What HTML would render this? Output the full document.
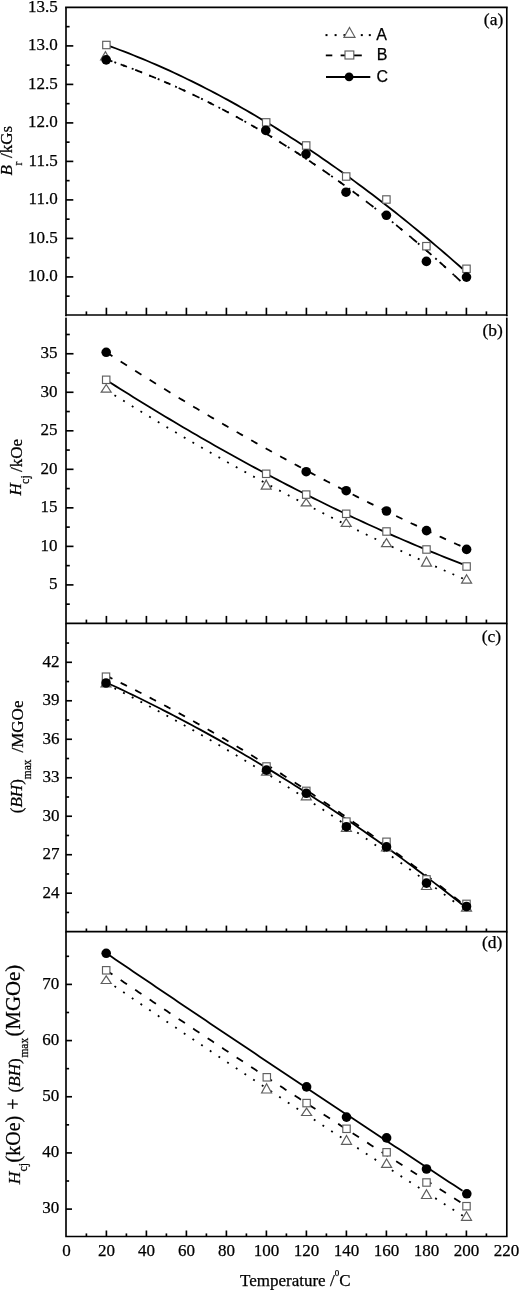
<!DOCTYPE html>
<html><head><meta charset="utf-8"><title>Temperature dependence</title><style>
html,body{margin:0;padding:0;background:#fff;}
svg{display:block;}
.ax{stroke:#000;stroke-width:1.65;fill:none;}
.tl{font-family:"Liberation Serif",serif;font-size:17px;fill:#000;stroke:#000;stroke-width:0.25;}
.pl{font-family:"Liberation Serif",serif;font-size:17.5px;fill:#000;stroke:#000;stroke-width:0.25;}
.lg{font-family:"Liberation Sans",sans-serif;font-size:16px;fill:#000;stroke:#000;stroke-width:0.25;}
.at{font-family:"Liberation Serif",serif;font-size:17px;fill:#000;stroke:#000;stroke-width:0.25;}
.xt{font-family:"Liberation Serif",serif;font-size:17px;fill:#000;stroke:#000;stroke-width:0.25;}
.ls{stroke:#000;stroke-width:1.8;fill:none;}
.lx{stroke:#000;stroke-width:1.8;fill:none;stroke-linecap:butt;}
.ld{stroke:#000;stroke-width:1.8;fill:none;stroke-dasharray:7.7 9.6;}
.lo{stroke:#000;stroke-width:1.8;fill:none;stroke-dasharray:2 8;}
.sq{fill:#fff;stroke:#5e5e5e;stroke-width:1.15;}
.tr{fill:#fff;stroke:#5e5e5e;stroke-width:1.2;stroke-linejoin:miter;}
.ci{fill:#000;}
</style></head>
<body><svg width="520" height="1290" viewBox="0 0 520 1290">
<rect width="520" height="1290" fill="#fff"/>
<g><path d="M106.40 45.00 L110.91 46.62 L115.42 48.28 L119.92 49.97 L124.43 51.69 L128.94 53.45 L133.45 55.24 L137.95 57.06 L142.46 58.91 L146.97 60.79 L151.48 62.71 L155.98 64.66 L160.49 66.64 L165.00 68.65 L169.51 70.69 L174.01 72.77 L178.52 74.88 L183.03 77.02 L187.54 79.19 L192.04 81.39 L196.55 83.62 L201.06 85.89 L205.57 88.19 L210.07 90.51 L214.58 92.87 L219.09 95.26 L223.60 97.68 L228.11 100.14 L232.61 102.62 L237.12 105.13 L241.63 107.68 L246.14 110.25 L250.64 112.86 L255.15 115.50 L259.66 118.16 L264.17 120.86 L268.67 123.59 L273.18 126.35 L277.69 129.14 L282.20 131.96 L286.70 134.81 L291.21 137.69 L295.72 140.60 L300.23 143.53 L304.73 146.50 L309.24 149.50 L313.75 152.53 L318.26 155.59 L322.76 158.68 L327.27 161.80 L331.78 164.94 L336.29 168.12 L340.79 171.33 L345.30 174.56 L349.81 177.83 L354.32 181.12 L358.83 184.45 L363.33 187.80 L367.84 191.18 L372.35 194.59 L376.86 198.03 L381.36 201.50 L385.87 204.99 L390.38 208.52 L394.89 212.07 L399.39 215.66 L403.90 219.27 L408.41 222.91 L412.92 226.58 L417.42 230.27 L421.93 234.00 L426.44 237.75 L430.95 241.53 L435.45 245.34 L439.96 249.18 L444.47 253.04 L448.98 256.93 L453.48 260.85 L457.99 264.80 L462.50 268.78" class="ls"/>
<path d="M108.00 59.95 L109.11 60.33 L110.22 60.71 L111.34 61.10 L112.45 61.49M120.65 64.41 L122.22 64.98 L123.80 65.56 L125.38 66.14 L126.95 66.72M135.15 69.83 L136.73 70.43 L138.30 71.04 L139.88 71.66 L141.45 72.28M149.65 75.57 L151.23 76.21 L152.80 76.86 L154.38 77.51 L155.95 78.16M164.15 81.64 L165.73 82.31 L167.30 83.00 L168.88 83.68 L170.45 84.37M178.65 88.03 L180.23 88.75 L181.80 89.47 L183.38 90.19 L184.95 90.92M193.15 94.76 L194.73 95.51 L196.30 96.27 L197.88 97.03 L199.45 97.79M207.65 101.82 L209.23 102.61 L210.80 103.40 L212.38 104.20 L213.95 105.00M222.15 109.22 L223.73 110.05 L225.30 110.87 L226.88 111.71 L228.45 112.54M236.65 116.96 L238.23 117.82 L239.80 118.69 L241.38 119.55 L242.95 120.43M251.15 125.04 L252.72 125.94 L254.30 126.84 L255.88 127.74 L257.45 128.65M265.65 133.46 L267.23 134.39 L268.80 135.33 L270.38 136.28 L271.95 137.22M280.15 142.22 L281.73 143.20 L283.30 144.17 L284.88 145.16 L286.45 146.14M294.65 151.34 L296.23 152.35 L297.80 153.36 L299.38 154.38 L300.95 155.41M309.15 160.80 L310.73 161.85 L312.30 162.90 L313.88 163.96 L315.45 165.02M323.65 170.62 L325.23 171.71 L326.80 172.80 L328.38 173.89 L329.95 174.99M338.15 180.79 L339.73 181.92 L341.30 183.05 L342.88 184.18 L344.45 185.32M352.65 191.32 L354.23 192.48 L355.80 193.65 L357.38 194.83 L358.95 196.00M367.15 202.20 L368.73 203.41 L370.30 204.62 L371.88 205.83 L373.45 207.05M381.65 213.45 L383.23 214.70 L384.80 215.95 L386.38 217.20 L387.95 218.45M396.15 225.07 L397.73 226.35 L399.30 227.64 L400.88 228.93 L402.45 230.23M410.65 237.05 L412.23 238.37 L413.80 239.70 L415.38 241.03 L416.95 242.37M425.15 249.39 L426.73 250.76 L428.30 252.13 L429.88 253.50 L431.45 254.87M439.65 262.11 L441.23 263.52 L442.80 264.93 L444.38 266.34 L445.95 267.76M454.15 275.21 L455.73 276.65 L457.30 278.10 L458.88 279.55 L460.45 281.01" class="lx"/>
<path d="M114.39 62.17 L116.18 62.80M123.06 65.29 L124.84 65.94M131.73 68.52 L133.51 69.20M140.40 71.87 L142.17 72.56M149.08 75.33 L150.84 76.05M157.75 78.92 L159.50 79.65M166.42 82.62 L168.16 83.37M175.09 86.43 L176.83 87.21M183.77 90.37 L185.49 91.17M192.44 94.42 L194.15 95.24M201.11 98.60 L202.82 99.43M209.78 102.89 L211.48 103.75M218.46 107.31 L220.14 108.18M227.13 111.84 L228.81 112.73M235.80 116.50 L237.47 117.41M244.47 121.28 L246.13 122.20M253.15 126.18 L254.80 127.12M261.82 131.20 L263.46 132.16M270.49 136.35 L272.12 137.33M279.17 141.62 L280.78 142.62M287.84 147.01 L289.45 148.03M296.51 152.53 L298.11 153.56M305.19 158.18 L306.77 159.23M313.86 163.95 L315.44 165.01M322.53 169.85 L324.10 170.93M331.21 175.87 L332.76 176.97M339.88 182.03 L341.42 183.13M348.55 188.31 L350.09 189.43M357.23 194.71 L358.75 195.85M365.90 201.25 L367.41 202.40M374.57 207.92 L376.07 209.08M383.25 214.71 L384.74 215.89M391.92 221.64 L393.40 222.84M400.59 228.70 L402.06 229.91M409.27 235.89 L410.72 237.11M417.94 243.21 L419.39 244.44M426.61 250.66 L428.05 251.91M435.29 258.25 L436.71 259.51M443.96 265.97 L445.37 267.24M452.63 273.82 L454.04 275.10" class="lx"/>
<path d="M105.4 51.6 L110.2 60.0 L100.6 60.0Z" class="tr"/>
<rect x="102.70" y="41.30" width="7.4" height="7.4" class="sq"/>
<rect x="262.50" y="118.70" width="7.4" height="7.4" class="sq"/>
<rect x="302.50" y="141.80" width="7.4" height="7.4" class="sq"/>
<rect x="342.50" y="172.80" width="7.4" height="7.4" class="sq"/>
<rect x="382.70" y="195.80" width="7.4" height="7.4" class="sq"/>
<rect x="422.70" y="242.50" width="7.4" height="7.4" class="sq"/>
<rect x="462.80" y="265.10" width="7.4" height="7.4" class="sq"/>
<circle cx="106.20" cy="59.90" r="4.8" class="ci"/>
<circle cx="265.80" cy="130.40" r="4.8" class="ci"/>
<circle cx="306.00" cy="154.10" r="4.8" class="ci"/>
<circle cx="346.00" cy="192.20" r="4.8" class="ci"/>
<circle cx="386.40" cy="215.30" r="4.8" class="ci"/>
<circle cx="426.40" cy="261.40" r="4.8" class="ci"/>
<circle cx="466.50" cy="277.10" r="4.8" class="ci"/>
<path d="M106.40 352.21 L107.91 353.19 L109.43 354.18 L110.94 355.16 L112.45 356.14M120.65 361.44 L122.22 362.45 L123.80 363.46 L125.38 364.47 L126.95 365.48M135.15 370.70 L136.73 371.70 L138.30 372.69 L139.88 373.69 L141.45 374.68M149.65 379.83 L151.23 380.81 L152.80 381.79 L154.38 382.78 L155.95 383.76M164.15 388.83 L165.73 389.80 L167.30 390.77 L168.88 391.74 L170.45 392.70M178.65 397.71 L180.23 398.66 L181.80 399.62 L183.38 400.57 L184.95 401.52M193.15 406.45 L194.73 407.40 L196.30 408.34 L197.88 409.28 L199.45 410.21M207.65 415.07 L209.23 416.00 L210.80 416.93 L212.38 417.86 L213.95 418.78M222.15 423.57 L223.73 424.48 L225.30 425.40 L226.88 426.31 L228.45 427.22M236.65 431.94 L238.23 432.84 L239.80 433.74 L241.38 434.64 L242.95 435.54M251.15 440.19 L252.72 441.08 L254.30 441.96 L255.88 442.85 L257.45 443.73M265.65 448.31 L267.23 449.19 L268.80 450.06 L270.38 450.93 L271.95 451.80M280.15 456.31 L281.73 457.17 L283.30 458.03 L284.88 458.89 L286.45 459.75M294.65 464.19 L296.23 465.04 L297.80 465.89 L299.38 466.73 L300.95 467.58M309.15 471.95 L310.73 472.79 L312.30 473.62 L313.88 474.45 L315.45 475.28M323.65 479.59 L325.23 480.41 L326.80 481.23 L328.38 482.05 L329.95 482.87M338.15 487.11 L339.73 487.92 L341.30 488.73 L342.88 489.53 L344.45 490.34M352.65 494.51 L354.23 495.31 L355.80 496.10 L357.38 496.90 L358.95 497.69M367.15 501.79 L368.73 502.58 L370.30 503.36 L371.88 504.14 L373.45 504.92M381.65 508.96 L383.23 509.73 L384.80 510.50 L386.38 511.27 L387.95 512.04M396.15 516.01 L397.73 516.77 L399.30 517.52 L400.88 518.28 L402.45 519.03M410.65 522.94 L412.23 523.69 L413.80 524.43 L415.38 525.18 L416.95 525.92M425.15 529.76 L426.73 530.50 L428.30 531.23 L429.88 531.96 L431.45 532.69M439.65 536.47 L441.23 537.19 L442.80 537.91 L444.38 538.63 L445.95 539.35M454.15 543.06 L455.73 543.77 L457.30 544.48 L458.88 545.18 L460.45 545.89" class="lx"/>
<path d="M106.40 380.14 L110.91 383.01 L115.42 385.87 L119.92 388.71 L124.43 391.54 L128.94 394.36 L133.45 397.16 L137.95 399.95 L142.46 402.73 L146.97 405.50 L151.48 408.25 L155.98 410.99 L160.49 413.72 L165.00 416.43 L169.51 419.13 L174.01 421.82 L178.52 424.50 L183.03 427.16 L187.54 429.80 L192.04 432.44 L196.55 435.06 L201.06 437.67 L205.57 440.26 L210.07 442.84 L214.58 445.41 L219.09 447.96 L223.60 450.50 L228.11 453.03 L232.61 455.54 L237.12 458.04 L241.63 460.52 L246.14 462.99 L250.64 465.45 L255.15 467.89 L259.66 470.31 L264.17 472.73 L268.67 475.13 L273.18 477.51 L277.69 479.88 L282.20 482.24 L286.70 484.58 L291.21 486.91 L295.72 489.22 L300.23 491.52 L304.73 493.80 L309.24 496.07 L313.75 498.32 L318.26 500.56 L322.76 502.79 L327.27 505.00 L331.78 507.19 L336.29 509.37 L340.79 511.53 L345.30 513.68 L349.81 515.82 L354.32 517.94 L358.83 520.04 L363.33 522.13 L367.84 524.20 L372.35 526.26 L376.86 528.30 L381.36 530.33 L385.87 532.34 L390.38 534.33 L394.89 536.31 L399.39 538.28 L403.90 540.22 L408.41 542.16 L412.92 544.07 L417.42 545.97 L421.93 547.86 L426.44 549.73 L430.95 551.58 L435.45 553.41 L439.96 555.23 L444.47 557.04 L448.98 558.83 L453.48 560.60 L457.99 562.35 L462.50 564.09" class="ls"/>
<path d="M114.48 395.16 L116.09 396.16M123.14 400.56 L124.76 401.56M131.81 405.92 L133.43 406.91M140.48 411.23 L142.10 412.22M149.14 416.51 L150.77 417.49M157.81 421.73 L159.44 422.71M166.48 426.92 L168.11 427.89M175.14 432.06 L176.78 433.02M183.81 437.16 L185.45 438.12M192.47 442.21 L194.12 443.16M201.14 447.22 L202.79 448.17M209.81 452.19 L211.46 453.13M218.47 457.12 L220.13 458.05M227.14 462.00 L228.80 462.93M235.81 466.84 L237.47 467.76M244.47 471.63 L246.14 472.55M253.14 476.38 L254.81 477.29M261.80 481.10 L263.48 482.00M270.47 485.76 L272.15 486.66M279.14 490.39 L280.82 491.28M287.80 494.97 L289.48 495.85M296.47 499.51 L298.15 500.39M305.14 504.01 L306.82 504.88M313.80 508.46 L315.49 509.32M322.47 512.87 L324.16 513.73M331.13 517.24 L332.83 518.09M339.80 521.57 L341.50 522.41M348.47 525.85 L350.17 526.69M357.13 530.10 L358.84 530.93M365.80 534.30 L367.51 535.12M374.47 538.46 L376.18 539.28M383.13 542.57 L384.85 543.39M391.80 546.65 L393.52 547.45M400.47 550.68 L402.19 551.48M409.13 554.67 L410.86 555.46M417.80 558.62 L419.53 559.41M426.47 562.53 L428.20 563.31M435.13 566.40 L436.87 567.17M443.80 570.22 L445.54 570.99M452.46 574.01 L454.21 574.76M461.13 577.75 L462.88 578.50" class="lx"/>
<path d="M106.20 384.50 L111.20 392.20 L101.20 392.20Z" class="tr"/>
<path d="M266.20 480.10 L271.20 489.20 L261.20 489.20Z" class="tr"/>
<path d="M306.20 498.60 L311.20 505.90 L301.20 505.90Z" class="tr"/>
<path d="M346.20 518.60 L351.20 526.30 L341.20 526.30Z" class="tr"/>
<path d="M386.50 538.60 L391.50 546.60 L381.50 546.60Z" class="tr"/>
<path d="M426.50 557.00 L431.50 566.20 L421.50 566.20Z" class="tr"/>
<path d="M466.60 574.70 L471.60 583.20 L461.60 583.20Z" class="tr"/>
<rect x="102.50" y="376.10" width="7.4" height="7.4" class="sq"/>
<rect x="262.50" y="470.10" width="7.4" height="7.4" class="sq"/>
<rect x="302.50" y="490.90" width="7.4" height="7.4" class="sq"/>
<rect x="342.50" y="510.10" width="7.4" height="7.4" class="sq"/>
<rect x="382.80" y="527.80" width="7.4" height="7.4" class="sq"/>
<rect x="422.80" y="545.80" width="7.4" height="7.4" class="sq"/>
<rect x="462.90" y="562.80" width="7.4" height="7.4" class="sq"/>
<circle cx="106.20" cy="352.30" r="4.8" class="ci"/>
<circle cx="306.20" cy="471.70" r="4.8" class="ci"/>
<circle cx="346.20" cy="490.70" r="4.8" class="ci"/>
<circle cx="386.50" cy="511.00" r="4.8" class="ci"/>
<circle cx="426.50" cy="530.60" r="4.8" class="ci"/>
<circle cx="466.60" cy="549.40" r="4.8" class="ci"/>
<path d="M106.00 682.37 L110.51 684.45 L115.01 686.55 L119.52 688.66 L124.03 690.80 L128.53 692.95 L133.04 695.12 L137.54 697.31 L142.05 699.52 L146.56 701.75 L151.06 703.99 L155.57 706.26 L160.08 708.54 L164.58 710.84 L169.09 713.16 L173.59 715.49 L178.10 717.85 L182.61 720.22 L187.11 722.61 L191.62 725.02 L196.13 727.45 L200.63 729.90 L205.14 732.37 L209.65 734.85 L214.15 737.36 L218.66 739.88 L223.16 742.42 L227.67 744.98 L232.18 747.56 L236.68 750.16 L241.19 752.77 L245.70 755.41 L250.20 758.06 L254.71 760.73 L259.22 763.42 L263.72 766.13 L268.23 768.86 L272.73 771.61 L277.24 774.38 L281.75 777.16 L286.25 779.97 L290.76 782.79 L295.27 785.64 L299.77 788.50 L304.28 791.38 L308.78 794.28 L313.29 797.20 L317.80 800.14 L322.30 803.10 L326.81 806.07 L331.32 809.07 L335.82 812.08 L340.33 815.12 L344.84 818.17 L349.34 821.25 L353.85 824.34 L358.35 827.45 L362.86 830.58 L367.37 833.73 L371.87 836.90 L376.38 840.09 L380.89 843.30 L385.39 846.53 L389.90 849.78 L394.41 853.05 L398.91 856.34 L403.42 859.64 L407.92 862.97 L412.43 866.32 L416.94 869.68 L421.44 873.07 L425.95 876.47 L430.46 879.90 L434.96 883.35 L439.47 886.81 L443.97 890.29 L448.48 893.80 L452.99 897.32 L457.49 900.87 L462.00 904.43" class="ls"/>
<path d="M108.00 676.58 L109.11 677.12 L110.22 677.66 L111.34 678.21 L112.45 678.75M120.65 682.79 L122.22 683.57 L123.80 684.35 L125.38 685.14 L126.95 685.93M135.15 690.07 L136.73 690.87 L138.30 691.68 L139.88 692.49 L141.45 693.30M149.65 697.54 L151.23 698.37 L152.80 699.19 L154.38 700.02 L155.95 700.85M164.15 705.20 L165.73 706.04 L167.30 706.89 L168.88 707.74 L170.45 708.59M178.65 713.05 L180.23 713.91 L181.80 714.77 L183.38 715.64 L184.95 716.51M193.15 721.07 L194.73 721.96 L196.30 722.84 L197.88 723.73 L199.45 724.62M207.65 729.29 L209.23 730.19 L210.80 731.10 L212.38 732.01 L213.95 732.92M222.15 737.69 L223.73 738.61 L225.30 739.54 L226.88 740.47 L228.45 741.40M236.65 746.27 L238.23 747.22 L239.80 748.16 L241.38 749.11 L242.95 750.06M251.15 755.04 L252.72 756.00 L254.30 756.97 L255.88 757.94 L257.45 758.91M265.65 763.99 L267.23 764.98 L268.80 765.96 L270.38 766.95 L271.95 767.94M280.15 773.13 L281.73 774.13 L283.30 775.14 L284.88 776.14 L286.45 777.15M294.65 782.45 L296.23 783.47 L297.80 784.49 L299.38 785.52 L300.95 786.55M309.15 791.95 L310.73 792.99 L312.30 794.03 L313.88 795.08 L315.45 796.13M323.65 801.63 L325.23 802.69 L326.80 803.76 L328.38 804.82 L329.95 805.89M338.15 811.49 L339.73 812.58 L341.30 813.66 L342.88 814.75 L344.45 815.84M352.65 821.54 L354.23 822.64 L355.80 823.75 L357.38 824.85 L358.95 825.96M367.15 831.77 L368.73 832.89 L370.30 834.01 L371.88 835.14 L373.45 836.27M381.65 842.18 L383.23 843.32 L384.80 844.46 L386.38 845.61 L387.95 846.76M396.15 852.77 L397.73 853.93 L399.30 855.09 L400.88 856.26 L402.45 857.42M410.65 863.54 L412.23 864.72 L413.80 865.90 L415.38 867.08 L416.95 868.27M425.15 874.48 L426.73 875.68 L428.30 876.89 L429.88 878.09 L431.45 879.30M439.65 885.61 L441.23 886.83 L442.80 888.05 L444.38 889.28 L445.95 890.50M454.15 896.92 L455.73 898.16 L457.30 899.40 L458.88 900.64 L460.45 901.89" class="lx"/>
<path d="M114.44 688.22 L116.13 689.08M123.11 692.62 L124.80 693.49M131.78 697.08 L133.46 697.96M140.45 701.60 L142.13 702.49M149.12 706.18 L150.79 707.07M157.79 710.81 L159.46 711.71M166.46 715.50 L168.13 716.41M175.13 720.24 L176.79 721.16M183.80 725.04 L185.46 725.97M192.47 729.90 L194.12 730.84M201.14 734.82 L202.79 735.76M209.81 739.78 L211.45 740.73M218.48 744.81 L220.12 745.77M227.15 749.89 L228.79 750.85M235.82 755.02 L237.45 755.99M244.49 760.21 L246.12 761.19M253.16 765.45 L254.78 766.44M261.83 770.75 L263.45 771.75M270.50 776.10 L272.12 777.11M279.17 781.51 L280.78 782.52M287.84 786.97 L289.45 787.98M296.51 792.48 L298.11 793.50M305.18 798.05 L306.78 799.08M313.85 803.66 L315.44 804.70M322.52 809.34 L324.11 810.38M331.19 815.06 L332.78 816.11M339.86 820.84 L341.44 821.89M348.53 826.66 L350.11 827.73M357.20 832.54 L358.77 833.61M365.87 838.48 L367.44 839.55M374.54 844.46 L376.10 845.54M383.21 850.49 L384.77 851.58M391.88 856.58 L393.44 857.67M400.55 862.72 L402.10 863.82M409.22 868.90 L410.77 870.01M417.89 875.14 L419.43 876.25M426.56 881.43 L428.10 882.55M435.23 887.76 L436.77 888.89M443.90 894.15 L445.43 895.28M452.57 900.59 L454.10 901.72" class="lx"/>
<path d="M106.00 678.10 L111.00 686.90 L101.00 686.90Z" class="tr"/>
<path d="M266.50 766.40 L271.50 775.20 L261.50 775.20Z" class="tr"/>
<path d="M306.30 791.00 L311.30 799.80 L301.30 799.80Z" class="tr"/>
<path d="M346.40 822.70 L351.40 831.50 L341.40 831.50Z" class="tr"/>
<path d="M386.50 842.20 L391.50 851.00 L381.50 851.00Z" class="tr"/>
<path d="M426.50 880.70 L431.50 889.50 L421.50 889.50Z" class="tr"/>
<path d="M466.50 902.40 L471.50 911.20 L461.50 911.20Z" class="tr"/>
<rect x="102.30" y="673.00" width="7.4" height="7.4" class="sq"/>
<rect x="262.80" y="762.80" width="7.4" height="7.4" class="sq"/>
<rect x="302.60" y="787.20" width="7.4" height="7.4" class="sq"/>
<rect x="342.70" y="817.90" width="7.4" height="7.4" class="sq"/>
<rect x="382.80" y="838.10" width="7.4" height="7.4" class="sq"/>
<rect x="422.80" y="875.70" width="7.4" height="7.4" class="sq"/>
<rect x="462.80" y="900.20" width="7.4" height="7.4" class="sq"/>
<circle cx="106.00" cy="683.00" r="4.8" class="ci"/>
<circle cx="266.50" cy="770.10" r="4.8" class="ci"/>
<circle cx="306.30" cy="793.30" r="4.8" class="ci"/>
<circle cx="346.40" cy="826.70" r="4.8" class="ci"/>
<circle cx="386.50" cy="846.90" r="4.8" class="ci"/>
<circle cx="426.50" cy="883.10" r="4.8" class="ci"/>
<circle cx="466.50" cy="906.50" r="4.8" class="ci"/>
<path d="M106.40 953.26 L110.91 956.33 L115.42 959.39 L119.92 962.46 L124.43 965.52 L128.94 968.58 L133.45 971.63 L137.95 974.69 L142.46 977.74 L146.97 980.80 L151.48 983.85 L155.98 986.90 L160.49 989.95 L165.00 992.99 L169.51 996.04 L174.01 999.08 L178.52 1002.13 L183.03 1005.17 L187.54 1008.21 L192.04 1011.24 L196.55 1014.28 L201.06 1017.32 L205.57 1020.35 L210.07 1023.38 L214.58 1026.41 L219.09 1029.44 L223.60 1032.47 L228.11 1035.49 L232.61 1038.52 L237.12 1041.54 L241.63 1044.56 L246.14 1047.58 L250.64 1050.60 L255.15 1053.62 L259.66 1056.63 L264.17 1059.65 L268.67 1062.66 L273.18 1065.67 L277.69 1068.68 L282.20 1071.69 L286.70 1074.69 L291.21 1077.70 L295.72 1080.70 L300.23 1083.70 L304.73 1086.70 L309.24 1089.70 L313.75 1092.70 L318.26 1095.69 L322.76 1098.69 L327.27 1101.68 L331.78 1104.67 L336.29 1107.66 L340.79 1110.65 L345.30 1113.63 L349.81 1116.62 L354.32 1119.60 L358.83 1122.58 L363.33 1125.56 L367.84 1128.54 L372.35 1131.52 L376.86 1134.50 L381.36 1137.47 L385.87 1140.44 L390.38 1143.42 L394.89 1146.39 L399.39 1149.35 L403.90 1152.32 L408.41 1155.29 L412.92 1158.25 L417.42 1161.21 L421.93 1164.17 L426.44 1167.13 L430.95 1170.09 L435.45 1173.05 L439.96 1176.00 L444.47 1178.96 L448.98 1181.91 L453.48 1184.86 L457.99 1187.81 L462.50 1190.75" class="ls"/>
<path d="M106.40 970.40 L107.91 971.42 L109.43 972.44 L110.94 973.46 L112.45 974.48M120.65 980.02 L122.22 981.08 L123.80 982.14 L125.38 983.20 L126.95 984.26M135.15 989.78 L136.73 990.84 L138.30 991.90 L139.88 992.96 L141.45 994.01M149.65 999.52 L151.23 1000.57 L152.80 1001.63 L154.38 1002.69 L155.95 1003.74M164.15 1009.23 L165.73 1010.28 L167.30 1011.34 L168.88 1012.39 L170.45 1013.44M178.65 1018.92 L180.23 1019.97 L181.80 1021.02 L183.38 1022.07 L184.95 1023.12M193.15 1028.58 L194.73 1029.63 L196.30 1030.68 L197.88 1031.73 L199.45 1032.77M207.65 1038.22 L209.23 1039.27 L210.80 1040.31 L212.38 1041.36 L213.95 1042.40M222.15 1047.84 L223.73 1048.88 L225.30 1049.92 L226.88 1050.96 L228.45 1052.01M236.65 1057.42 L238.23 1058.46 L239.80 1059.50 L241.38 1060.54 L242.95 1061.58M251.15 1066.99 L252.72 1068.03 L254.30 1069.06 L255.88 1070.10 L257.45 1071.14M265.65 1076.53 L267.23 1077.56 L268.80 1078.60 L270.38 1079.63 L271.95 1080.66M280.15 1086.04 L281.73 1087.07 L283.30 1088.11 L284.88 1089.14 L286.45 1090.17M294.65 1095.53 L296.23 1096.56 L297.80 1097.59 L299.38 1098.62 L300.95 1099.65M309.15 1105.00 L310.73 1106.02 L312.30 1107.05 L313.88 1108.07 L315.45 1109.10M323.65 1114.44 L325.23 1115.46 L326.80 1116.48 L328.38 1117.51 L329.95 1118.53M338.15 1123.85 L339.73 1124.87 L341.30 1125.89 L342.88 1126.91 L344.45 1127.93M352.65 1133.24 L354.23 1134.26 L355.80 1135.28 L357.38 1136.29 L358.95 1137.31M367.15 1142.60 L368.73 1143.62 L370.30 1144.64 L371.88 1145.65 L373.45 1146.67M381.65 1151.94 L383.23 1152.96 L384.80 1153.97 L386.38 1154.98 L387.95 1156.00M396.15 1161.26 L397.73 1162.27 L399.30 1163.28 L400.88 1164.29 L402.45 1165.30M410.65 1170.55 L412.23 1171.56 L413.80 1172.56 L415.38 1173.57 L416.95 1174.58M425.15 1179.82 L426.73 1180.82 L428.30 1181.82 L429.88 1182.83 L431.45 1183.83M439.65 1189.06 L441.23 1190.06 L442.80 1191.06 L444.38 1192.06 L445.95 1193.06M454.15 1198.27 L455.73 1199.27 L457.30 1200.27 L458.88 1201.27 L460.45 1202.27" class="lx"/>
<path d="M114.50 986.13 L116.07 987.20M123.17 992.04 L124.74 993.11M131.83 997.95 L133.41 999.01M140.50 1003.84 L142.07 1004.91M149.17 1009.72 L150.74 1010.79M157.84 1015.59 L159.41 1016.66M166.50 1021.46 L168.08 1022.52M175.17 1027.31 L176.75 1028.37M183.84 1033.15 L185.42 1034.21M192.51 1038.98 L194.08 1040.04M201.18 1044.80 L202.75 1045.86M209.84 1050.62 L211.42 1051.67M218.51 1056.42 L220.09 1057.47M227.18 1062.21 L228.76 1063.26M235.85 1067.99 L237.43 1069.04M244.51 1073.76 L246.10 1074.81M253.18 1079.52 L254.76 1080.57M261.85 1085.27 L263.43 1086.32M270.52 1091.01 L272.10 1092.06M279.18 1096.74 L280.77 1097.79M287.85 1102.46 L289.44 1103.50M296.52 1108.17 L298.11 1109.21M305.19 1113.87 L306.77 1114.91M313.85 1119.55 L315.44 1120.60M322.52 1125.23 L324.11 1126.27M331.19 1130.90 L332.78 1131.94M339.86 1136.56 L341.45 1137.60M348.52 1142.21 L350.12 1143.24M357.19 1147.85 L358.78 1148.88M365.86 1153.47 L367.45 1154.51M374.53 1159.09 L376.12 1160.12M383.19 1164.70 L384.79 1165.73M391.86 1170.29 L393.46 1171.32M400.53 1175.88 L402.13 1176.91M409.20 1181.46 L410.80 1182.49M417.86 1187.02 L419.46 1188.05M426.53 1192.58 L428.13 1193.61M435.20 1198.13 L436.80 1199.15M443.87 1203.66 L445.47 1204.68M452.53 1209.19 L454.14 1210.21M461.20 1214.70 L462.81 1215.72" class="lx"/>
<path d="M106.20 975.80 L111.20 983.50 L101.20 983.50Z" class="tr"/>
<path d="M266.60 1083.80 L271.60 1093.00 L261.60 1093.00Z" class="tr"/>
<path d="M306.60 1108.10 L311.60 1115.50 L301.60 1115.50Z" class="tr"/>
<path d="M346.50 1135.50 L351.50 1144.30 L341.50 1144.30Z" class="tr"/>
<path d="M386.60 1159.00 L391.60 1167.40 L381.60 1167.40Z" class="tr"/>
<path d="M426.50 1189.70 L431.50 1198.50 L421.50 1198.50Z" class="tr"/>
<path d="M466.50 1211.80 L471.50 1220.30 L461.50 1220.30Z" class="tr"/>
<rect x="102.50" y="966.60" width="7.4" height="7.4" class="sq"/>
<rect x="263.10" y="1073.60" width="7.4" height="7.4" class="sq"/>
<rect x="302.90" y="1099.40" width="7.4" height="7.4" class="sq"/>
<rect x="342.80" y="1125.10" width="7.4" height="7.4" class="sq"/>
<rect x="382.90" y="1148.60" width="7.4" height="7.4" class="sq"/>
<rect x="422.80" y="1178.80" width="7.4" height="7.4" class="sq"/>
<rect x="462.80" y="1202.50" width="7.4" height="7.4" class="sq"/>
<circle cx="106.20" cy="953.30" r="4.8" class="ci"/>
<circle cx="306.60" cy="1086.90" r="4.8" class="ci"/>
<circle cx="346.50" cy="1117.10" r="4.8" class="ci"/>
<circle cx="386.60" cy="1137.90" r="4.8" class="ci"/>
<circle cx="426.50" cy="1169.00" r="4.8" class="ci"/>
<circle cx="466.80" cy="1193.80" r="4.8" class="ci"/></g>
<g><line x1="66.00" y1="296.15" x2="69.60" y2="296.15" class="ax"/>
<line x1="66.00" y1="276.90" x2="73.30" y2="276.90" class="ax"/>
<line x1="66.00" y1="257.65" x2="69.60" y2="257.65" class="ax"/>
<line x1="66.00" y1="238.40" x2="73.30" y2="238.40" class="ax"/>
<line x1="66.00" y1="219.15" x2="69.60" y2="219.15" class="ax"/>
<line x1="66.00" y1="199.90" x2="73.30" y2="199.90" class="ax"/>
<line x1="66.00" y1="180.65" x2="69.60" y2="180.65" class="ax"/>
<line x1="66.00" y1="161.40" x2="73.30" y2="161.40" class="ax"/>
<line x1="66.00" y1="142.15" x2="69.60" y2="142.15" class="ax"/>
<line x1="66.00" y1="122.90" x2="73.30" y2="122.90" class="ax"/>
<line x1="66.00" y1="103.65" x2="69.60" y2="103.65" class="ax"/>
<line x1="66.00" y1="84.40" x2="73.30" y2="84.40" class="ax"/>
<line x1="66.00" y1="65.15" x2="69.60" y2="65.15" class="ax"/>
<line x1="66.00" y1="45.90" x2="73.30" y2="45.90" class="ax"/>
<line x1="66.00" y1="26.65" x2="69.60" y2="26.65" class="ax"/>
<text x="57.7" y="281.20" class="tl" text-anchor="end">10.0</text>
<text x="57.7" y="242.70" class="tl" text-anchor="end">10.5</text>
<text x="57.7" y="204.20" class="tl" text-anchor="end">11.0</text>
<text x="57.7" y="165.70" class="tl" text-anchor="end">11.5</text>
<text x="57.7" y="127.20" class="tl" text-anchor="end">12.0</text>
<text x="57.7" y="88.70" class="tl" text-anchor="end">12.5</text>
<text x="57.7" y="50.20" class="tl" text-anchor="end">13.0</text>
<text x="57.7" y="11.70" class="tl" text-anchor="end">13.5</text>
<line x1="86.40" y1="315.00" x2="86.40" y2="311.40" class="ax"/>
<line x1="106.40" y1="315.00" x2="106.40" y2="307.70" class="ax"/>
<line x1="126.40" y1="315.00" x2="126.40" y2="311.40" class="ax"/>
<line x1="146.40" y1="315.00" x2="146.40" y2="307.70" class="ax"/>
<line x1="166.40" y1="315.00" x2="166.40" y2="311.40" class="ax"/>
<line x1="186.40" y1="315.00" x2="186.40" y2="307.70" class="ax"/>
<line x1="206.40" y1="315.00" x2="206.40" y2="311.40" class="ax"/>
<line x1="226.40" y1="315.00" x2="226.40" y2="307.70" class="ax"/>
<line x1="246.40" y1="315.00" x2="246.40" y2="311.40" class="ax"/>
<line x1="266.40" y1="315.00" x2="266.40" y2="307.70" class="ax"/>
<line x1="286.40" y1="315.00" x2="286.40" y2="311.40" class="ax"/>
<line x1="306.40" y1="315.00" x2="306.40" y2="307.70" class="ax"/>
<line x1="326.40" y1="315.00" x2="326.40" y2="311.40" class="ax"/>
<line x1="346.40" y1="315.00" x2="346.40" y2="307.70" class="ax"/>
<line x1="366.40" y1="315.00" x2="366.40" y2="311.40" class="ax"/>
<line x1="386.40" y1="315.00" x2="386.40" y2="307.70" class="ax"/>
<line x1="406.40" y1="315.00" x2="406.40" y2="311.40" class="ax"/>
<line x1="426.40" y1="315.00" x2="426.40" y2="307.70" class="ax"/>
<line x1="446.40" y1="315.00" x2="446.40" y2="311.40" class="ax"/>
<line x1="466.40" y1="315.00" x2="466.40" y2="307.70" class="ax"/>
<line x1="486.40" y1="315.00" x2="486.40" y2="311.40" class="ax"/>
<path d="M66.00 7.40 V315.00 H506.80 V7.40" class="ax" fill="none"/>
<line x1="65.10" y1="7.40" x2="507.70" y2="7.40" class="ax"/>
<text x="503.3" y="25.3" class="pl" text-anchor="end">(a)</text>
<line x1="66.00" y1="604.16" x2="69.80" y2="604.16" class="ax"/>
<line x1="66.00" y1="584.90" x2="73.50" y2="584.90" class="ax"/>
<line x1="66.00" y1="565.64" x2="69.80" y2="565.64" class="ax"/>
<line x1="66.00" y1="546.38" x2="73.50" y2="546.38" class="ax"/>
<line x1="66.00" y1="527.11" x2="69.80" y2="527.11" class="ax"/>
<line x1="66.00" y1="507.85" x2="73.50" y2="507.85" class="ax"/>
<line x1="66.00" y1="488.59" x2="69.80" y2="488.59" class="ax"/>
<line x1="66.00" y1="469.32" x2="73.50" y2="469.32" class="ax"/>
<line x1="66.00" y1="450.06" x2="69.80" y2="450.06" class="ax"/>
<line x1="66.00" y1="430.80" x2="73.50" y2="430.80" class="ax"/>
<line x1="66.00" y1="411.54" x2="69.80" y2="411.54" class="ax"/>
<line x1="66.00" y1="392.27" x2="73.50" y2="392.27" class="ax"/>
<line x1="66.00" y1="373.01" x2="69.80" y2="373.01" class="ax"/>
<line x1="66.00" y1="353.75" x2="73.50" y2="353.75" class="ax"/>
<line x1="66.00" y1="334.49" x2="69.80" y2="334.49" class="ax"/>
<text x="57.6" y="589.20" class="tl" text-anchor="end">5</text>
<text x="57.6" y="550.67" class="tl" text-anchor="end">10</text>
<text x="57.6" y="512.15" class="tl" text-anchor="end">15</text>
<text x="57.6" y="473.62" class="tl" text-anchor="end">20</text>
<text x="57.6" y="435.10" class="tl" text-anchor="end">25</text>
<text x="57.6" y="396.57" class="tl" text-anchor="end">30</text>
<text x="57.6" y="358.05" class="tl" text-anchor="end">35</text>
<line x1="86.40" y1="623.40" x2="86.40" y2="619.60" class="ax"/>
<line x1="106.40" y1="623.40" x2="106.40" y2="615.90" class="ax"/>
<line x1="126.40" y1="623.40" x2="126.40" y2="619.60" class="ax"/>
<line x1="146.40" y1="623.40" x2="146.40" y2="615.90" class="ax"/>
<line x1="166.40" y1="623.40" x2="166.40" y2="619.60" class="ax"/>
<line x1="186.40" y1="623.40" x2="186.40" y2="615.90" class="ax"/>
<line x1="206.40" y1="623.40" x2="206.40" y2="619.60" class="ax"/>
<line x1="226.40" y1="623.40" x2="226.40" y2="615.90" class="ax"/>
<line x1="246.40" y1="623.40" x2="246.40" y2="619.60" class="ax"/>
<line x1="266.40" y1="623.40" x2="266.40" y2="615.90" class="ax"/>
<line x1="286.40" y1="623.40" x2="286.40" y2="619.60" class="ax"/>
<line x1="306.40" y1="623.40" x2="306.40" y2="615.90" class="ax"/>
<line x1="326.40" y1="623.40" x2="326.40" y2="619.60" class="ax"/>
<line x1="346.40" y1="623.40" x2="346.40" y2="615.90" class="ax"/>
<line x1="366.40" y1="623.40" x2="366.40" y2="619.60" class="ax"/>
<line x1="386.40" y1="623.40" x2="386.40" y2="615.90" class="ax"/>
<line x1="406.40" y1="623.40" x2="406.40" y2="619.60" class="ax"/>
<line x1="426.40" y1="623.40" x2="426.40" y2="615.90" class="ax"/>
<line x1="446.40" y1="623.40" x2="446.40" y2="619.60" class="ax"/>
<line x1="466.40" y1="623.40" x2="466.40" y2="615.90" class="ax"/>
<line x1="486.40" y1="623.40" x2="486.40" y2="619.60" class="ax"/>
<path d="M66.00 315.00 V623.40 H506.80 V315.00" class="ax" fill="none"/>
<text x="502.8" y="336.0" class="pl" text-anchor="end">(b)</text>
<line x1="66.00" y1="912.45" x2="69.10" y2="912.45" class="ax"/>
<line x1="66.00" y1="893.20" x2="72.00" y2="893.20" class="ax"/>
<line x1="66.00" y1="873.96" x2="69.10" y2="873.96" class="ax"/>
<line x1="66.00" y1="854.72" x2="72.00" y2="854.72" class="ax"/>
<line x1="66.00" y1="835.48" x2="69.10" y2="835.48" class="ax"/>
<line x1="66.00" y1="816.24" x2="72.00" y2="816.24" class="ax"/>
<line x1="66.00" y1="796.99" x2="69.10" y2="796.99" class="ax"/>
<line x1="66.00" y1="777.75" x2="72.00" y2="777.75" class="ax"/>
<line x1="66.00" y1="758.51" x2="69.10" y2="758.51" class="ax"/>
<line x1="66.00" y1="739.27" x2="72.00" y2="739.27" class="ax"/>
<line x1="66.00" y1="720.03" x2="69.10" y2="720.03" class="ax"/>
<line x1="66.00" y1="700.78" x2="72.00" y2="700.78" class="ax"/>
<line x1="66.00" y1="681.54" x2="69.10" y2="681.54" class="ax"/>
<line x1="66.00" y1="662.30" x2="72.00" y2="662.30" class="ax"/>
<line x1="66.00" y1="643.06" x2="69.10" y2="643.06" class="ax"/>
<text x="59.4" y="897.50" class="tl" text-anchor="end">24</text>
<text x="59.4" y="859.02" class="tl" text-anchor="end">27</text>
<text x="59.4" y="820.54" class="tl" text-anchor="end">30</text>
<text x="59.4" y="782.05" class="tl" text-anchor="end">33</text>
<text x="59.4" y="743.57" class="tl" text-anchor="end">36</text>
<text x="59.4" y="705.08" class="tl" text-anchor="end">39</text>
<text x="59.4" y="666.60" class="tl" text-anchor="end">42</text>
<line x1="86.40" y1="931.60" x2="86.40" y2="928.50" class="ax"/>
<line x1="106.40" y1="931.60" x2="106.40" y2="925.60" class="ax"/>
<line x1="126.40" y1="931.60" x2="126.40" y2="928.50" class="ax"/>
<line x1="146.40" y1="931.60" x2="146.40" y2="925.60" class="ax"/>
<line x1="166.40" y1="931.60" x2="166.40" y2="928.50" class="ax"/>
<line x1="186.40" y1="931.60" x2="186.40" y2="925.60" class="ax"/>
<line x1="206.40" y1="931.60" x2="206.40" y2="928.50" class="ax"/>
<line x1="226.40" y1="931.60" x2="226.40" y2="925.60" class="ax"/>
<line x1="246.40" y1="931.60" x2="246.40" y2="928.50" class="ax"/>
<line x1="266.40" y1="931.60" x2="266.40" y2="925.60" class="ax"/>
<line x1="286.40" y1="931.60" x2="286.40" y2="928.50" class="ax"/>
<line x1="306.40" y1="931.60" x2="306.40" y2="925.60" class="ax"/>
<line x1="326.40" y1="931.60" x2="326.40" y2="928.50" class="ax"/>
<line x1="346.40" y1="931.60" x2="346.40" y2="925.60" class="ax"/>
<line x1="366.40" y1="931.60" x2="366.40" y2="928.50" class="ax"/>
<line x1="386.40" y1="931.60" x2="386.40" y2="925.60" class="ax"/>
<line x1="406.40" y1="931.60" x2="406.40" y2="928.50" class="ax"/>
<line x1="426.40" y1="931.60" x2="426.40" y2="925.60" class="ax"/>
<line x1="446.40" y1="931.60" x2="446.40" y2="928.50" class="ax"/>
<line x1="466.40" y1="931.60" x2="466.40" y2="925.60" class="ax"/>
<line x1="486.40" y1="931.60" x2="486.40" y2="928.50" class="ax"/>
<path d="M66.00 623.40 V931.60 H506.80 V623.40" class="ax" fill="none"/>
<text x="501.2" y="641.8" class="pl" text-anchor="end">(c)</text>
<line x1="66.00" y1="1209.10" x2="72.00" y2="1209.10" class="ax"/>
<line x1="66.00" y1="1181.01" x2="69.10" y2="1181.01" class="ax"/>
<line x1="66.00" y1="1152.92" x2="72.00" y2="1152.92" class="ax"/>
<line x1="66.00" y1="1124.84" x2="69.10" y2="1124.84" class="ax"/>
<line x1="66.00" y1="1096.75" x2="72.00" y2="1096.75" class="ax"/>
<line x1="66.00" y1="1068.66" x2="69.10" y2="1068.66" class="ax"/>
<line x1="66.00" y1="1040.58" x2="72.00" y2="1040.58" class="ax"/>
<line x1="66.00" y1="1012.49" x2="69.10" y2="1012.49" class="ax"/>
<line x1="66.00" y1="984.40" x2="72.00" y2="984.40" class="ax"/>
<line x1="66.00" y1="956.31" x2="69.10" y2="956.31" class="ax"/>
<text x="59.3" y="1213.40" class="tl" text-anchor="end">30</text>
<text x="59.3" y="1157.22" class="tl" text-anchor="end">40</text>
<text x="59.3" y="1101.05" class="tl" text-anchor="end">50</text>
<text x="59.3" y="1044.88" class="tl" text-anchor="end">60</text>
<text x="59.3" y="988.70" class="tl" text-anchor="end">70</text>
<line x1="86.40" y1="1236.50" x2="86.40" y2="1233.40" class="ax"/>
<line x1="106.40" y1="1236.50" x2="106.40" y2="1230.50" class="ax"/>
<line x1="126.40" y1="1236.50" x2="126.40" y2="1233.40" class="ax"/>
<line x1="146.40" y1="1236.50" x2="146.40" y2="1230.50" class="ax"/>
<line x1="166.40" y1="1236.50" x2="166.40" y2="1233.40" class="ax"/>
<line x1="186.40" y1="1236.50" x2="186.40" y2="1230.50" class="ax"/>
<line x1="206.40" y1="1236.50" x2="206.40" y2="1233.40" class="ax"/>
<line x1="226.40" y1="1236.50" x2="226.40" y2="1230.50" class="ax"/>
<line x1="246.40" y1="1236.50" x2="246.40" y2="1233.40" class="ax"/>
<line x1="266.40" y1="1236.50" x2="266.40" y2="1230.50" class="ax"/>
<line x1="286.40" y1="1236.50" x2="286.40" y2="1233.40" class="ax"/>
<line x1="306.40" y1="1236.50" x2="306.40" y2="1230.50" class="ax"/>
<line x1="326.40" y1="1236.50" x2="326.40" y2="1233.40" class="ax"/>
<line x1="346.40" y1="1236.50" x2="346.40" y2="1230.50" class="ax"/>
<line x1="366.40" y1="1236.50" x2="366.40" y2="1233.40" class="ax"/>
<line x1="386.40" y1="1236.50" x2="386.40" y2="1230.50" class="ax"/>
<line x1="406.40" y1="1236.50" x2="406.40" y2="1233.40" class="ax"/>
<line x1="426.40" y1="1236.50" x2="426.40" y2="1230.50" class="ax"/>
<line x1="446.40" y1="1236.50" x2="446.40" y2="1233.40" class="ax"/>
<line x1="466.40" y1="1236.50" x2="466.40" y2="1230.50" class="ax"/>
<line x1="486.40" y1="1236.50" x2="486.40" y2="1233.40" class="ax"/>
<path d="M66.00 931.60 V1236.50 H506.80 V931.60" class="ax" fill="none"/>
<text x="502.4" y="947.7" class="pl" text-anchor="end">(d)</text>
<text x="66.40" y="1255.8" class="tl" text-anchor="middle">0</text>
<text x="106.40" y="1255.8" class="tl" text-anchor="middle">20</text>
<text x="146.40" y="1255.8" class="tl" text-anchor="middle">40</text>
<text x="186.40" y="1255.8" class="tl" text-anchor="middle">60</text>
<text x="226.40" y="1255.8" class="tl" text-anchor="middle">80</text>
<text x="266.40" y="1255.8" class="tl" text-anchor="middle">100</text>
<text x="306.40" y="1255.8" class="tl" text-anchor="middle">120</text>
<text x="346.40" y="1255.8" class="tl" text-anchor="middle">140</text>
<text x="386.40" y="1255.8" class="tl" text-anchor="middle">160</text>
<text x="426.40" y="1255.8" class="tl" text-anchor="middle">180</text>
<text x="466.40" y="1255.8" class="tl" text-anchor="middle">200</text>
<text x="506.40" y="1255.8" class="tl" text-anchor="middle">220</text></g>
<rect x="63" y="316.3" width="6" height="1.3" fill="#fff"/><rect x="504" y="316.3" width="6" height="1.3" fill="#fff"/>
<g><rect x="325.5" y="34.1" width="2" height="2" fill="#000"/>
<rect x="334.6" y="34.1" width="2" height="2" fill="#000"/>
<rect x="343.5" y="34.1" width="2" height="2" fill="#000"/>
<rect x="360.8" y="34.1" width="2" height="2" fill="#000"/>
<rect x="368.8" y="34.1" width="2" height="2" fill="#000"/>
<line x1="325.8" y1="55.4" x2="332.3" y2="55.4" class="ls"/>
<line x1="340.6" y1="55.4" x2="345" y2="55.4" class="ls"/>
<line x1="353.8" y1="55.4" x2="361.8" y2="55.4" class="ls"/>
<line x1="326" y1="77" x2="370.3" y2="77" class="ls"/>
<path d="M349.5 27.5 L355 37.3 L344 37.3Z" class="tr"/>
<rect x="345" y="51" width="8.8" height="8" class="sq"/>
<circle cx="349.1" cy="76.8" r="4.4" class="ci"/>
<text x="376.3" y="39.5" class="lg">A</text>
<text x="376.8" y="60.4" class="lg">B</text>
<text x="376.6" y="82.3" class="lg">C</text></g>
<g><text transform="translate(12.00 175.60) rotate(-90)" x="0" y="0" style="font-size:17px" class="at"><tspan font-style="italic">B</tspan></text>
<text transform="translate(21.50 165.60) rotate(-90)" x="0" y="0" style="font-size:11.5px" class="at">r</text>
<text transform="translate(12.00 158.00) rotate(-90)" x="0" y="0" style="font-size:17px" class="at">/kGs</text>
<text transform="translate(21.00 495.60) rotate(-90)" x="0" y="0" style="font-size:17px" class="at"><tspan font-style="italic">H</tspan></text>
<text transform="translate(29.40 483.90) rotate(-90)" x="0" y="0" style="font-size:12px" class="at">cj</text>
<text transform="translate(21.90 472.00) rotate(-90)" x="0" y="0" style="font-size:17px" class="at">/kOe</text>
<text transform="translate(22.30 813.20) rotate(-90)" x="0" y="0" style="font-size:17px" class="at">(<tspan font-style="italic">BH</tspan>)</text>
<text transform="translate(30.60 779.20) rotate(-90)" x="0" y="0" style="font-size:11.5px" class="at">max</text>
<text transform="translate(22.60 752.50) rotate(-90)" x="0" y="0" style="font-size:17px" class="at">/MGOe</text>
<text transform="translate(20.30 1184.20) rotate(-90)" x="0" y="0" style="font-size:17.5px" class="at"><tspan font-style="italic">H</tspan></text>
<text transform="translate(27.40 1171.50) rotate(-90)" x="0" y="0" style="font-size:12px" class="at">cj</text>
<text transform="translate(19.80 1162.40) rotate(-90)" x="0" y="0" style="font-size:20px" class="at">(kOe)</text>
<text transform="translate(19.80 1109.80) rotate(-90)" x="0" y="0" style="font-size:20px" class="at">+</text>
<text transform="translate(20.40 1092.40) rotate(-90)" x="0" y="0" style="font-size:17px" class="at">(<tspan font-style="italic">BH</tspan>)</text>
<text transform="translate(28.30 1057.60) rotate(-90)" x="0" y="0" style="font-size:11.5px" class="at">max</text>
<text transform="translate(19.80 1036.40) rotate(-90)" x="0" y="0" style="font-size:20px" textLength="71.50" lengthAdjust="spacingAndGlyphs" class="at">(MGOe)</text>
<text x="240.0" y="1285.8" class="xt">Temperature /<tspan font-size="9" dy="-9.5">0</tspan><tspan dy="9.5">C</tspan></text></g>
</svg></body></html>
